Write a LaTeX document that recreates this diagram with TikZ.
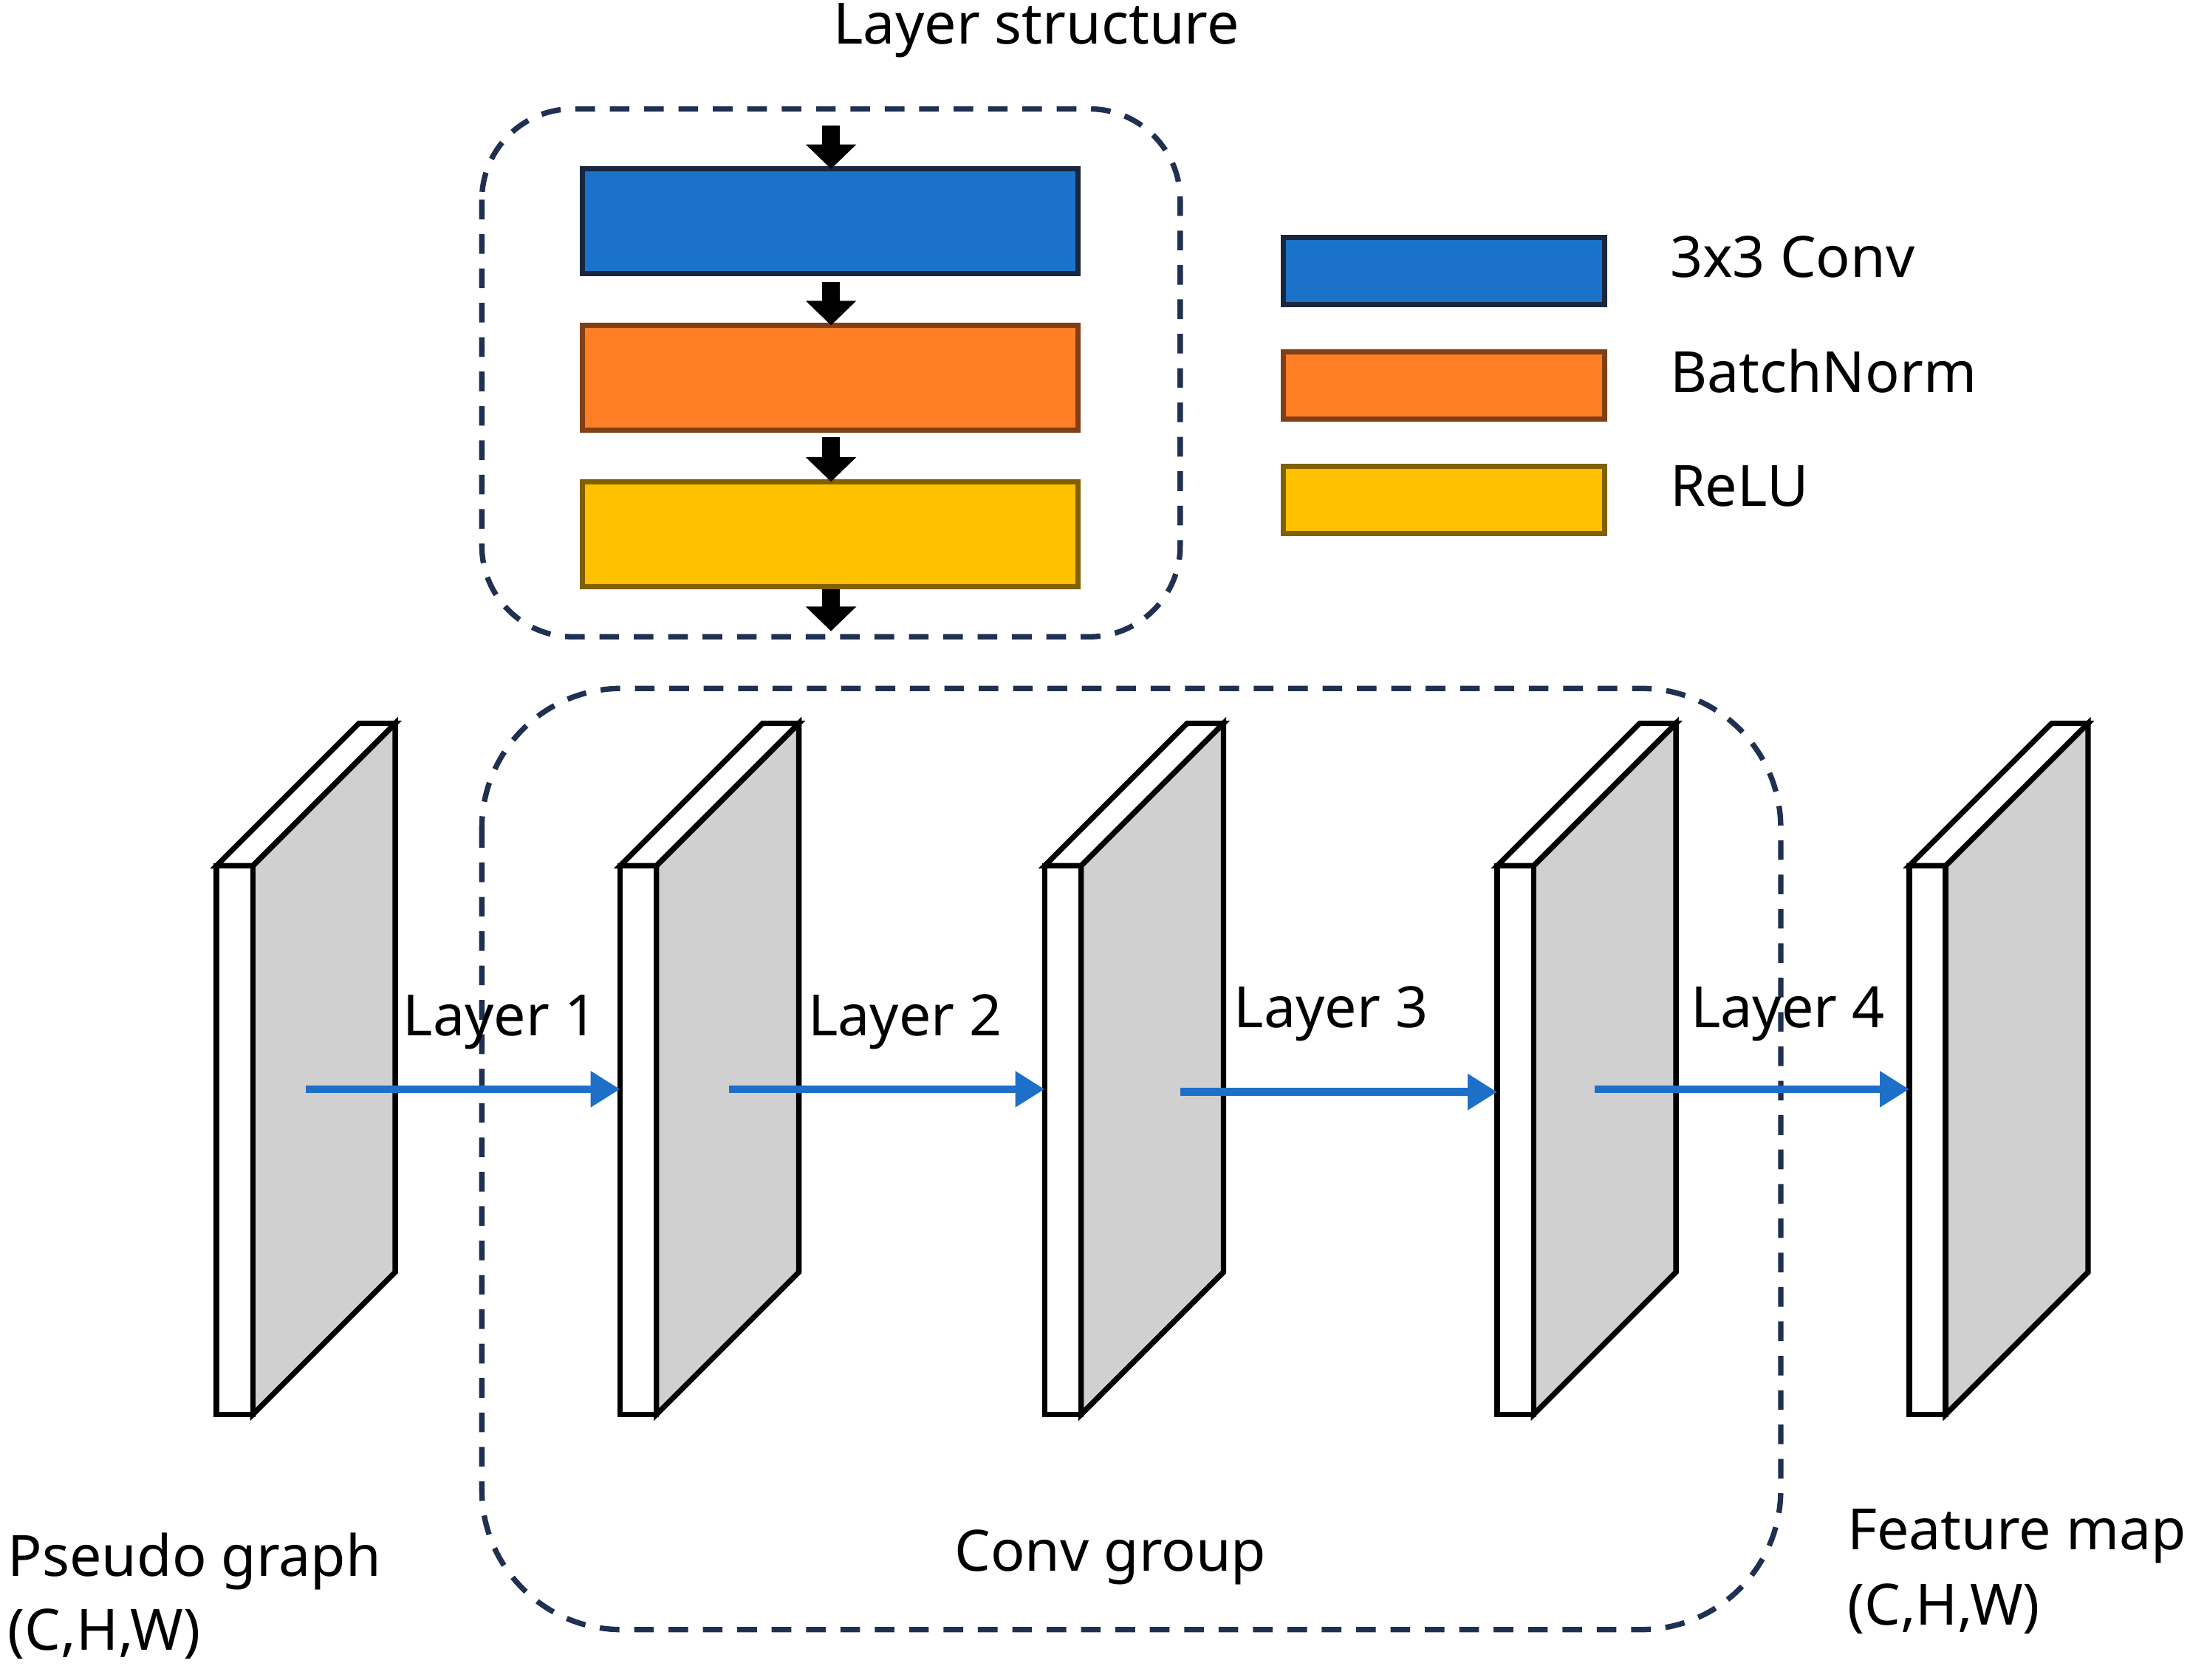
\documentclass[tikz,border=0pt]{standalone}
\usepackage{fontspec}
\setmainfont{Noto Sans}
\usetikzlibrary{arrows.meta}
\definecolor{cblue}{HTML}{1A73C8}
\definecolor{corange}{HTML}{FF7F27}
\definecolor{cyellow}{HTML}{FFC000}
\definecolor{cgray}{HTML}{D0D0D0}
\definecolor{dnavy}{HTML}{1F3050}
\definecolor{arrblue}{HTML}{1E6FC8}
\begin{document}
\begin{tikzpicture}[x=0.01cm,y=-0.01cm,
  txt/.style={font=\fontsize{11.6}{14}\selectfont,inner sep=0pt},
  grp/.style={draw=dnavy,dashed,line width=1.1pt,dash pattern=on 4pt off 3pt},
  blk/.style={line width=1.1pt},
  bk/.style={line width=3.5pt,-{Triangle[length=5pt,width=10pt]}},
  la/.style={draw=arrblue,line width=1.6pt,-{Triangle[length=6pt,width=7pt]}}]
\useasboundingbox (0,0) rectangle (1568,1203);
% layer structure
\node[txt] (t1) at (742,22) {Layer structure};
\draw[grp,rounded corners=0.65cm] (345,78) rectangle (845,456);
\draw[blk,fill=cblue,draw=dnavy!80!black] (417,121) rectangle (772,196);
\draw[blk,fill=corange,draw=corange!50!black] (417,233) rectangle (772,308);
\draw[blk,fill=cyellow,draw=cyellow!50!black] (417,345) rectangle (772,420);
\foreach \a/\b in {90/121,202/233,313/345,422/452}{
  \coordinate (s\a) at (595,\a); \coordinate (e\a) at (595,\b);
  \draw[bk] (s\a) -- (e\a);}
% legend
\draw[blk,fill=cblue,draw=dnavy!80!black] (919,170) rectangle (1149,218);
\draw[blk,fill=corange,draw=corange!50!black] (919,252) rectangle (1149,300);
\draw[blk,fill=cyellow,draw=cyellow!50!black] (919,334) rectangle (1149,382);
\node[txt,anchor=west] (l1) at (1195,184) {3x3 Conv};
\node[txt,anchor=west] (l2) at (1195,266) {BatchNorm};
\node[txt,anchor=west] (l3) at (1195,348) {ReLU};
% conv group
\draw[grp,rounded corners=1cm] (345,493) rectangle (1275,1167);
\node[txt] (cg) at (795,1115) {Conv group};
% slabs
\foreach \i/\x in {1/155,2/444,3/748,4/1072,5/1367}{
  \draw[blk,fill=cgray] (\x+26,620) -- (\x+128,518) -- (\x+128,911) -- (\x+26,1013) -- cycle;
  \draw[blk,fill=white] (\x,620) -- (\x+102,518) -- (\x+128,518) -- (\x+26,620) -- cycle;
  \draw[blk,fill=white] (\x,620) rectangle (\x+26,1013);
  \coordinate (f\i) at (\x,780);
}
\coordinate (a1) at (219,780);
\coordinate (a2) at (522,780);
\coordinate (a3) at (845,782);
\coordinate (a4) at (1142,780);
\draw[la] (a1) -- (f2);
\draw[la] (a2) -- (f3);
\draw[la] (a3) -- (1072,782);
\draw[la] (a4) -- (f5);
\node[txt] (L1) at (358,732) {Layer 1};
\node[txt] (L2) at (648,732) {Layer 2};
\node[txt] (L3) at (953,726) {Layer 3};
\node[txt] (L4) at (1280,726) {Layer 4};
\node[txt,anchor=west] (p1) at (5,1118) {Pseudo graph};
\node[txt,anchor=west] (p2) at (5,1170) {(C,H,W)};
\node[txt,anchor=west] (q1) at (1322,1100) {Feature map};
\node[txt,anchor=west] (q2) at (1322,1152) {(C,H,W)};
\end{tikzpicture}
\end{document}
